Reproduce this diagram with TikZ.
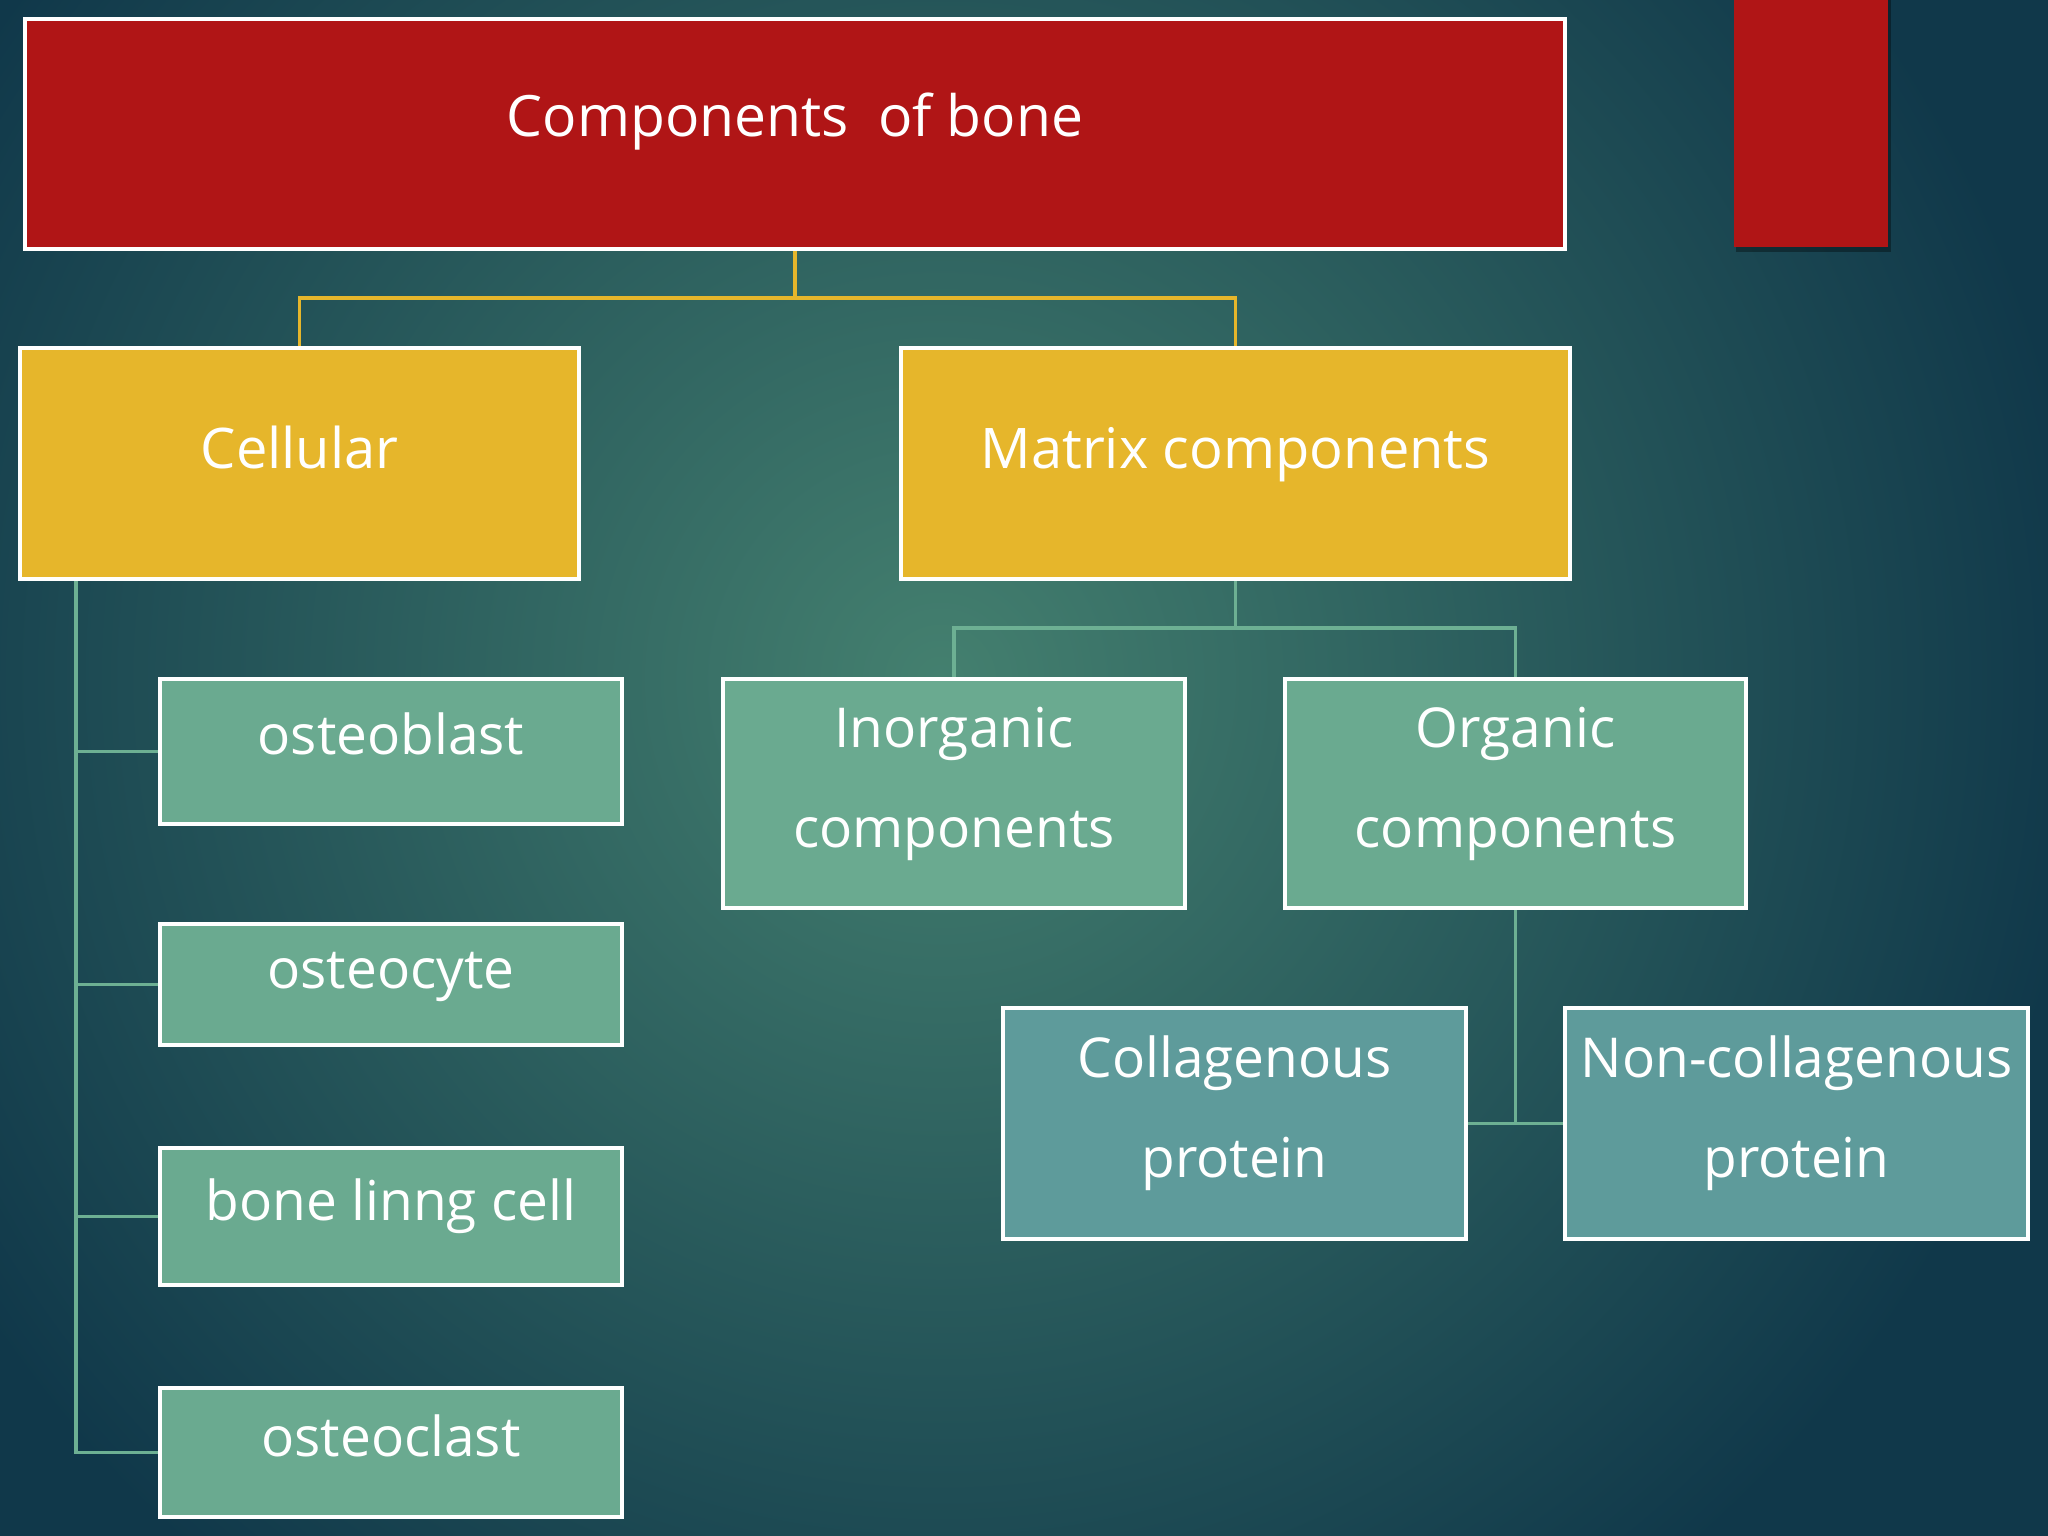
\documentclass[tikz,border=0pt]{standalone}
\usepackage{fontspec}
\setmainfont{Open Sans}
\usetikzlibrary{calc}
\definecolor{bgdark}{HTML}{10384A}
\definecolor{bglight}{HTML}{44806F}
\definecolor{titlered}{HTML}{B01516}
\definecolor{gold}{HTML}{E6B62B}
\definecolor{sage}{HTML}{6AAA90}
\definecolor{protblue}{HTML}{5E9B9B}
\definecolor{sageline}{HTML}{6DB093}

\begin{document}
\begin{tikzpicture}[x=1pt, y=-1pt,
    box/.style={draw=white, line width=4pt, inner sep=0pt, text=white, align=center,
      font=\fontsize{55}{100}\selectfont},
    topbox/.style={box, fill=titlered, font=\fontsize{57}{100}\selectfont},
    mainbox/.style={box, fill=gold, font=\fontsize{56}{100}\selectfont},
    cellbox/.style={box, fill=sage},
    protbox/.style={box, fill=protblue},
    yline/.style={draw=gold, line width=3.5pt},
    gline/.style={draw=sageline, line width=3.5pt}
  ]
  \useasboundingbox (0,0) rectangle (2048,1536);
  \fill[bgdark] (0,0) rectangle (2048,1536);
  \begin{scope}
    \clip (0,0) rectangle (2048,1536);
    \shade[inner color=bglight, outer color=bgdark] (940,680) circle (1150);
  \end{scope}
  \fill[black, opacity=.35] (1736,0) rectangle (1891,252);
  \fill[titlered] (1734,0) rectangle (1888,247);

  \node[topbox, minimum width=1540pt, text height=118pt, text depth=112pt] (top) at (795,134) {Components~~of bone};
  \node[mainbox, minimum width=559pt, text height=120pt, text depth=111pt] (cell) at (299.5,463.5) {Cellular};
  \node[mainbox, minimum width=669pt, text height=120pt, text depth=111pt] (mat) at (1235.5,463.5) {Matrix components};

  \node[cellbox, minimum width=462pt, text height=75pt, text depth=70pt] (ob) at (391,751.5) {osteoblast};
  \node[cellbox, minimum width=462pt, text height=64pt, text depth=57pt] (oy) at (391,984.5) {osteocyte};
  \node[cellbox, minimum width=462pt, text height=72pt, text depth=65pt] (bl) at (391,1216.5) {bone linng cell};
  \node[cellbox, minimum width=462pt, text height=68pt, text depth=61pt] (oc) at (391,1452.5) {osteoclast};

  \node[cellbox, minimum width=462pt, text height=168pt, text depth=61pt] (inorg) at (954,793.5) {Inorganic\\components};
  \node[cellbox, minimum width=461pt, text height=168pt, text depth=61pt] (org) at (1515.5,793.5) {Organic\\components};

  \node[protbox, minimum width=463pt, text height=169pt, text depth=62pt] (coll) at (1234.5,1123.5) {Collagenous\\protein};
  \node[protbox, minimum width=463pt, text height=169pt, text depth=62pt] (ncol) at (1796.5,1123.5) {Non-collagenous\\protein};

  \draw[yline] (top.south) -- ++(0,47) coordinate (ymid);
  \draw[yline] (cell.north) |- (ymid) -| (mat.north);

  \coordinate (spine) at ($(cell.south west)+(58,0)$);
  \draw[gline] (spine) |- (oc.west);
  \foreach \n in {ob,oy,bl}
    \draw[gline] (spine |- \n.west) -- (\n.west);

  \draw[gline] (mat.south) -- ++(0,47) coordinate (gmid);
  \draw[gline] (inorg.north) |- (gmid) -| (org.north);

  \draw[gline] (org.south) |- (coll.east);
  \draw[gline] (org.south) |- (ncol.west);
\end{tikzpicture}
\end{document}
